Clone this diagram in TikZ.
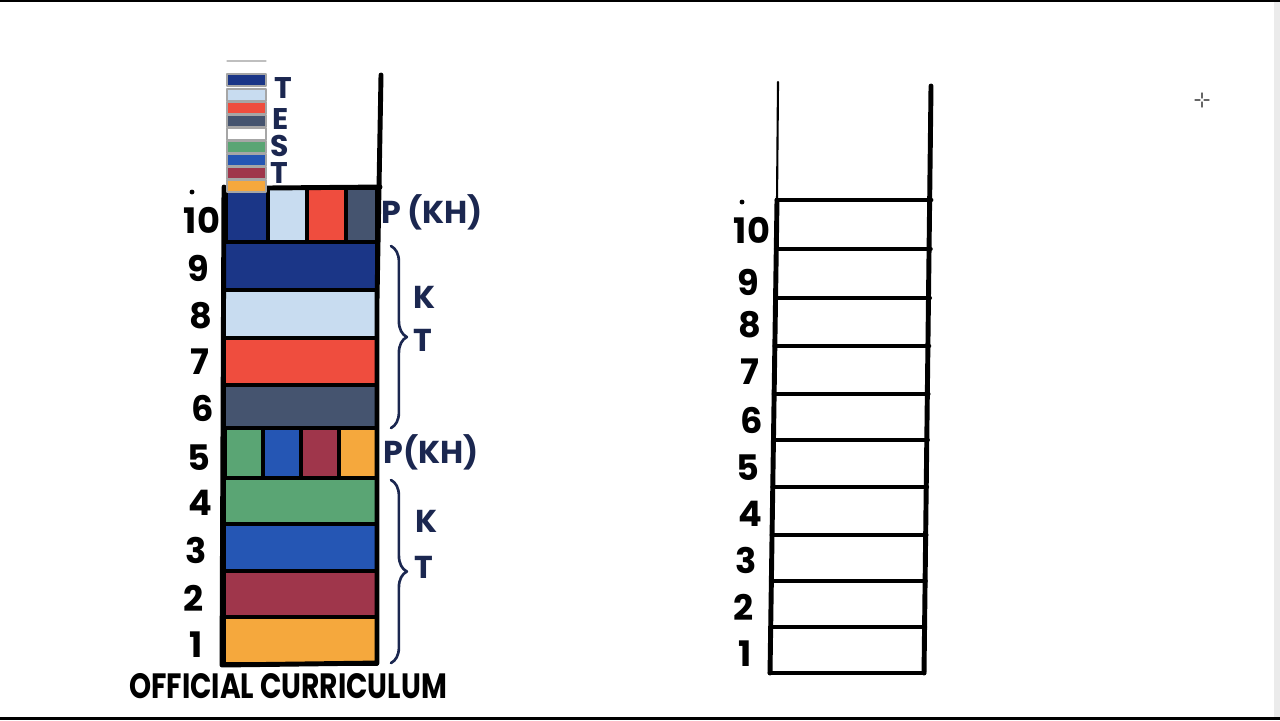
\documentclass[tikz,border=0pt]{standalone}
\usepackage{fontspec}
\setmainfont{Poppins}
\usepackage{tikz}
\usetikzlibrary{decorations.pathreplacing}
\definecolor{navy}{HTML}{1B2750}
\definecolor{dblue}{HTML}{1B3687}
\definecolor{lblue}{HTML}{C8DCF0}
\definecolor{cred}{HTML}{EF4D3E}
\definecolor{slate}{HTML}{45546F}
\definecolor{cgreen}{HTML}{5AA574}
\definecolor{cblue}{HTML}{2556B4}
\definecolor{maroon}{HTML}{9F364B}
\definecolor{orange}{HTML}{F5A83D}
\tikzset{
    hand/.style={font=\fontsize{10}{12}\selectfont\bfseries, inner sep=0pt},
    num/.style={hand, text=black},
    lbl/.style={hand, text=navy, font=\fontsize{9}{11}\selectfont\bfseries},
    testlbl/.style={lbl, font=\fontsize{8.5}{10}\selectfont\bfseries},
    cell/.style={draw=black, line width=0.9pt},
    strip/.style={draw=black!35, line width=0.3pt},
    edge/.style={line width=1.4pt},
    kt/.style={draw=navy, line width=0.75pt, decorate,
        decoration={brace, amplitude=4.5pt}}
}

\begin{document}
\begin{tikzpicture}[x=0.01cm,y=-0.01cm,line join=round,line cap=round]
    \useasboundingbox (0,0) rectangle (1280,720);
    % screen edges
    \fill (0,0) rectangle (1280,2);
    \fill (0,717) rectangle (1280,720);
    \fill[black!8] (1274,2) rectangle (1280,717);
    \draw[black!60,line width=0.4pt] (1195,100)--(1200,100) (1204,100)--(1209,100)
        (1202,93)--(1202,98) (1202,102)--(1202,107);
    % official curriculum: full rows
    \foreach \y/\h/\c in {242/48/dblue,290/48/lblue,338/47/cred,385/43/slate,
        478/46/cgreen,524/47/cblue,571/46/maroon,617/47/orange}
    \draw[cell,fill=\c](224,\y)rectangle++(153,\h);
    % split rows 10 and 5
    \foreach \x/\w/\c in {226/42/dblue,268/39/lblue,307/39/cred,346/31/slate}
    \draw[cell,fill=\c](\x,188)rectangle++(\w,54);
    \foreach \x/\w/\c in {225/38/cgreen,263/38/cblue,301/38/maroon,339/38/orange}
    \draw[cell,fill=\c](\x,428)rectangle++(\w,50);
    % outline of the stack
    \draw[edge] (224,187)--(222,665)--(377,663)--(377,300)--(381,75);
    \draw[edge] (266,188)--(380,187);
    % test stack on top
    \draw[black!25,line width=0.3pt] (227,61)--(266,61);
    \foreach \y/\c in {74/dblue,89/lblue,102/cred,115/slate,128/white,
        141/cgreen,154/cblue,167/maroon,180/orange}
    \draw[strip,fill=\c](227,\y)rectangle++(39,12);
    \foreach \n/\x/\y/\tex in {t1/283/88/T,t2/281/119/E,t3/280/146/S,t4/279/173/T}
    \node[testlbl] (\n) at (\x,\y) {\tex};
    % grade numbers, left
    \fill (192,192) circle[radius=0.7pt];
    \foreach \n/\x/\y in {10/202/220,9/198/268,8/201/316,7/200/362,6/203/408,
        5/199/458,4/200/503,3/196/550,2/194/598,1/196/645}
    \node[num] (l\n) at (\x,\y) {\n};
    % labels on the right of the stack
    \node[lbl] (pkh1) at (432,212) {P (KH)};
    \node[lbl] (pkh2) at (431,452) {P(KH)};
    \draw[kt] (391,246)--(391,428);
    \draw[kt] (391,480)--(391,663);
    \foreach \n/\x/\y/\tex in {k1/425/297/K,k2/423/340/T,k3/427/521/K,k4/424/567/T}
    \node[lbl] (\n) at (\x,\y) {\tex};
    \node[num] (oc) at (288,686) {\scalebox{0.8}[1]{OFFICIAL CURRICULUM}};
    % empty ladder, right
    \draw[line width=0.6pt] (778,82)--(777,200);
    \draw[edge] (777,200)--(770,673);
    \draw[edge] (931,86)--(924,673);
    \foreach \y in {200,249,298,346,394,440,487,535,581,627,673}{
        \pgfmathsetmacro{\xl}{777-(\y-200)*7/473}
        \pgfmathsetmacro{\xr}{931-(\y-200)*7/473}
        \draw[edge] (\xl,\y)--(\xr,\y);}
    \fill (742,202) circle[radius=0.7pt];
    \foreach \n/\x/\y in {10/752/230,9/748/282,8/750/325,7/750/372,6/752/420,
        5/748/468,4/750/514,3/746/560,2/744/607,1/745/654}
    \node[num] (r\n) at (\x,\y) {\n};
\end{tikzpicture}
\end{document}
